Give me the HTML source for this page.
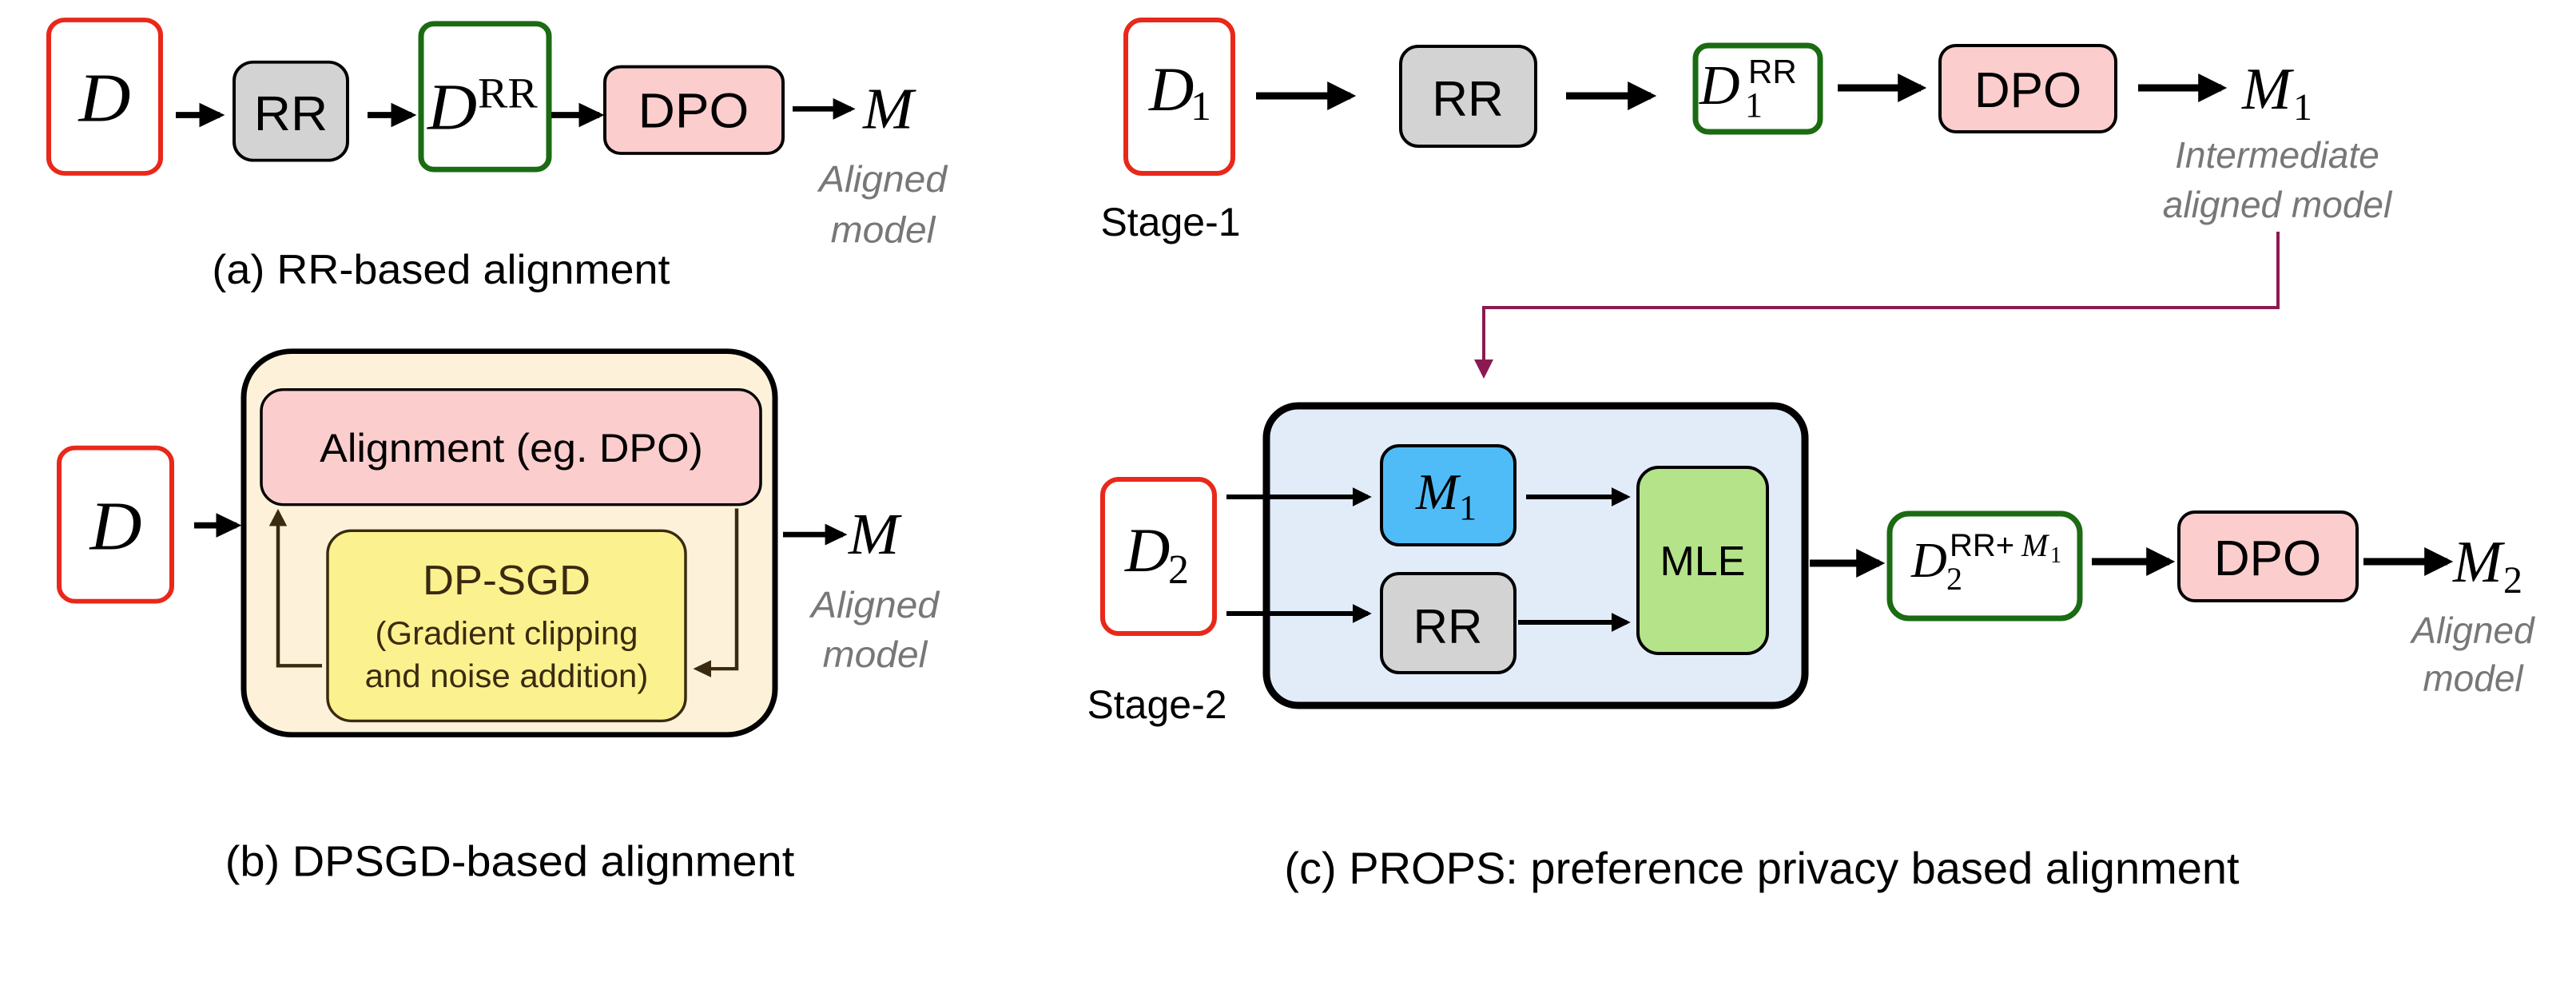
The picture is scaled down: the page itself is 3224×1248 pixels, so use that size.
<!DOCTYPE html>
<html><head><meta charset="utf-8"><style>
html,body{margin:0;padding:0;background:#fff;}
svg{display:block;}
.sans{font-family:"Liberation Sans",sans-serif;}
.math{font-family:"Liberation Serif",serif;font-style:italic;}
.rm{font-family:"Liberation Serif",serif;}
.gray{font-family:"Liberation Sans",sans-serif;font-style:italic;fill:#777;}
</style></head><body>
<svg width="3224" height="1248" viewBox="0 0 3224 1248" xmlns="http://www.w3.org/2000/svg">
<defs>
<marker id="ah" markerWidth="4" markerHeight="4" refX="3.2" refY="2" orient="auto" markerUnits="strokeWidth"><path d="M0,0 L4,2 L0,4 z" fill="#000"/></marker>
<marker id="ahb" markerWidth="5" markerHeight="5" refX="4" refY="2.5" orient="auto" markerUnits="strokeWidth"><path d="M0,0 L5,2.5 L0,5 z" fill="#3a2a10"/></marker>
<marker id="ahp" markerWidth="6" markerHeight="6" refX="5" refY="3" orient="auto" markerUnits="strokeWidth"><path d="M0,0 L6,3 L0,6 z" fill="#8b1a52"/></marker>
</defs>

<g transform="scale(1,0.96)">
<!-- (a) -->
<rect x="61" y="26" width="140" height="200" rx="20" fill="#fff" stroke="#e8281a" stroke-width="6"/>
<text x="131" y="158" font-size="90" text-anchor="middle" class="math">D</text>
<line x1="220" y1="150" x2="275" y2="150" stroke="#000" stroke-width="8" marker-end="url(#ah)"/>
<rect x="293" y="81" width="142" height="128" rx="24" fill="#d3d3d3" stroke="#000" stroke-width="4"/>
<text x="364" y="170" font-size="64" text-anchor="middle" class="sans">RR</text>
<line x1="460" y1="150" x2="515" y2="150" stroke="#000" stroke-width="8" marker-end="url(#ah)"/>
<rect x="527" y="31" width="160" height="190" rx="16" fill="#fff" stroke="#1a6b12" stroke-width="7"/>
<text x="535" y="168" font-size="86" class="math">D</text>
<text x="598" y="140" font-size="56" class="rm">RR</text>
<line x1="690" y1="150" x2="750" y2="150" stroke="#000" stroke-width="8" marker-end="url(#ah)"/>
<rect x="757" y="87" width="223" height="113" rx="20" fill="#fccdcd" stroke="#000" stroke-width="4"/>
<text x="868" y="166" font-size="64" text-anchor="middle" class="sans">DPO</text>
<line x1="992" y1="142" x2="1065" y2="142" stroke="#000" stroke-width="7" marker-end="url(#ah)"/>
<text x="1080" y="167" font-size="76" class="math">M</text>
<text x="1105" y="250" font-size="48" text-anchor="middle" class="gray">Aligned</text>
<text x="1105" y="316" font-size="48" text-anchor="middle" class="gray">model</text>
<text x="552" y="370" font-size="54" text-anchor="middle" class="sans">(a) RR-based alignment</text>

<!-- (b) -->
<rect x="305" y="458" width="665" height="500" rx="60" fill="#fdf2d9" stroke="#000" stroke-width="7"/>
<rect x="327" y="508" width="625" height="150" rx="28" fill="#fccdcd" stroke="#000" stroke-width="3.5"/>
<text x="640" y="602" font-size="52" text-anchor="middle" class="sans">Alignment (eg. DPO)</text>
<rect x="410" y="692" width="448" height="248" rx="30" fill="#fbf18e" stroke="#3a2a10" stroke-width="3.5"/>
<text x="634" y="775" font-size="54" text-anchor="middle" class="sans" fill="#3a2a10">DP-SGD</text>
<text x="634" y="840" font-size="42" text-anchor="middle" class="sans" fill="#3a2a10">(Gradient clipping</text>
<text x="634" y="896" font-size="42" text-anchor="middle" class="sans" fill="#3a2a10">and noise addition)</text>
<polyline points="403,868 348,868 348,668" fill="none" stroke="#3a2a10" stroke-width="4.5" marker-end="url(#ahb)"/>
<polyline points="922,663 922,872 872,872" fill="none" stroke="#3a2a10" stroke-width="4.5" marker-end="url(#ahb)"/>
<rect x="74" y="584" width="141" height="200" rx="20" fill="#fff" stroke="#e8281a" stroke-width="6"/>
<text x="145" y="716" font-size="90" text-anchor="middle" class="math">D</text>
<line x1="243" y1="685" x2="296" y2="685" stroke="#000" stroke-width="8" marker-end="url(#ah)"/>
<line x1="980" y1="697" x2="1055" y2="697" stroke="#000" stroke-width="7" marker-end="url(#ah)"/>
<text x="1062" y="722" font-size="76" class="math">M</text>
<text x="1095" y="805" font-size="48" text-anchor="middle" class="gray">Aligned</text>
<text x="1095" y="870" font-size="48" text-anchor="middle" class="gray">model</text>
<text x="638" y="1142" font-size="56" text-anchor="middle" class="sans">(b) DPSGD-based alignment</text>
</g>

<!-- (c) stage 1 -->
<rect x="1409" y="25" width="134" height="192" rx="20" fill="#fff" stroke="#e8281a" stroke-width="6"/>
<text x="1438" y="138" font-size="78" class="math">D</text>
<text x="1490" y="150" font-size="52" class="rm">1</text>
<text x="1465" y="295" font-size="50" text-anchor="middle" class="sans">Stage-1</text>
<line x1="1572" y1="120" x2="1690" y2="120" stroke="#000" stroke-width="9" marker-end="url(#ah)"/>
<rect x="1753" y="58" width="169" height="125" rx="22" fill="#d3d3d3" stroke="#000" stroke-width="4"/>
<text x="1837" y="145" font-size="62" text-anchor="middle" class="sans">RR</text>
<line x1="1960" y1="120" x2="2066" y2="120" stroke="#000" stroke-width="9" marker-end="url(#ah)"/>
<rect x="2122" y="57" width="156" height="108" rx="16" fill="#fff" stroke="#1a6b12" stroke-width="7"/>
<text x="2127" y="130" font-size="70" class="math">D</text>
<text x="2184" y="146" font-size="44" class="rm">1</text>
<text x="2188" y="104" font-size="42" class="sans">RR</text>
<line x1="2300" y1="110" x2="2404" y2="110" stroke="#000" stroke-width="9" marker-end="url(#ah)"/>
<rect x="2428" y="57" width="220" height="108" rx="20" fill="#fccdcd" stroke="#000" stroke-width="4"/>
<text x="2538" y="134" font-size="62" text-anchor="middle" class="sans">DPO</text>
<line x1="2676" y1="110" x2="2780" y2="110" stroke="#000" stroke-width="9" marker-end="url(#ah)"/>
<text x="2806" y="136" font-size="74" class="math">M</text>
<text x="2870" y="150" font-size="48" class="rm">1</text>
<text x="2850" y="210" font-size="46" text-anchor="middle" class="gray">Intermediate</text>
<text x="2850" y="272" font-size="46" text-anchor="middle" class="gray">aligned model</text>
<polyline points="2851,290 2851,385 1857,385 1857,470" fill="none" stroke="#8b1a52" stroke-width="4" marker-end="url(#ahp)"/>

<!-- (c) stage 2 -->
<rect x="1585" y="508" width="674" height="375" rx="40" fill="#e1ecf8" stroke="#000" stroke-width="9"/>
<rect x="1380" y="600" width="140" height="193" rx="20" fill="#fff" stroke="#e8281a" stroke-width="6"/>
<text x="1408" y="715" font-size="78" class="math">D</text>
<text x="1462" y="730" font-size="52" class="rm">2</text>
<text x="1448" y="899" font-size="50" text-anchor="middle" class="sans">Stage-2</text>
<line x1="1535" y1="622" x2="1712" y2="622" stroke="#000" stroke-width="6" marker-end="url(#ah)"/>
<line x1="1535" y1="768" x2="1712" y2="768" stroke="#000" stroke-width="6" marker-end="url(#ah)"/>
<rect x="1729" y="558" width="167" height="124" rx="22" fill="#4fbcf8" stroke="#000" stroke-width="4"/>
<text x="1772" y="637" font-size="64" class="math">M</text>
<text x="1826" y="650" font-size="44" class="rm">1</text>
<rect x="1729" y="718" width="167" height="124" rx="22" fill="#d3d3d3" stroke="#000" stroke-width="4"/>
<text x="1812" y="805" font-size="60" text-anchor="middle" class="sans">RR</text>
<line x1="1910" y1="622" x2="2036" y2="622" stroke="#000" stroke-width="6" marker-end="url(#ah)"/>
<line x1="1900" y1="779" x2="2036" y2="779" stroke="#000" stroke-width="6" marker-end="url(#ah)"/>
<rect x="2050" y="585" width="162" height="233" rx="26" fill="#b5e38a" stroke="#000" stroke-width="4"/>
<text x="2131" y="720" font-size="52" text-anchor="middle" class="sans">MLE</text>
<line x1="2265" y1="705" x2="2352" y2="705" stroke="#000" stroke-width="9" marker-end="url(#ah)"/>
<rect x="2365" y="643" width="238" height="131" rx="24" fill="#fff" stroke="#1a6b12" stroke-width="7"/>
<text x="2392" y="722" font-size="62" class="math">D</text>
<text x="2436" y="738" font-size="40" class="rm">2</text>
<text x="2440" y="696" font-size="40" class="sans">RR+</text>
<text x="2530" y="696" font-size="40" class="math">M</text>
<text x="2566" y="704" font-size="28" class="rm">1</text>
<line x1="2618" y1="703" x2="2715" y2="703" stroke="#000" stroke-width="9" marker-end="url(#ah)"/>
<rect x="2727" y="641" width="223" height="111" rx="20" fill="#fccdcd" stroke="#000" stroke-width="4"/>
<text x="2838" y="720" font-size="62" text-anchor="middle" class="sans">DPO</text>
<line x1="2958" y1="703" x2="3063" y2="703" stroke="#000" stroke-width="9" marker-end="url(#ah)"/>
<text x="3070" y="728" font-size="74" class="math">M</text>
<text x="3133" y="742" font-size="48" class="rm">2</text>
<text x="3095" y="805" font-size="46" text-anchor="middle" class="gray">Aligned</text>
<text x="3095" y="865" font-size="46" text-anchor="middle" class="gray">model</text>
<text x="2205" y="1106" font-size="56" text-anchor="middle" class="sans">(c) PROPS: preference privacy based alignment</text>
</svg>
</body></html>
